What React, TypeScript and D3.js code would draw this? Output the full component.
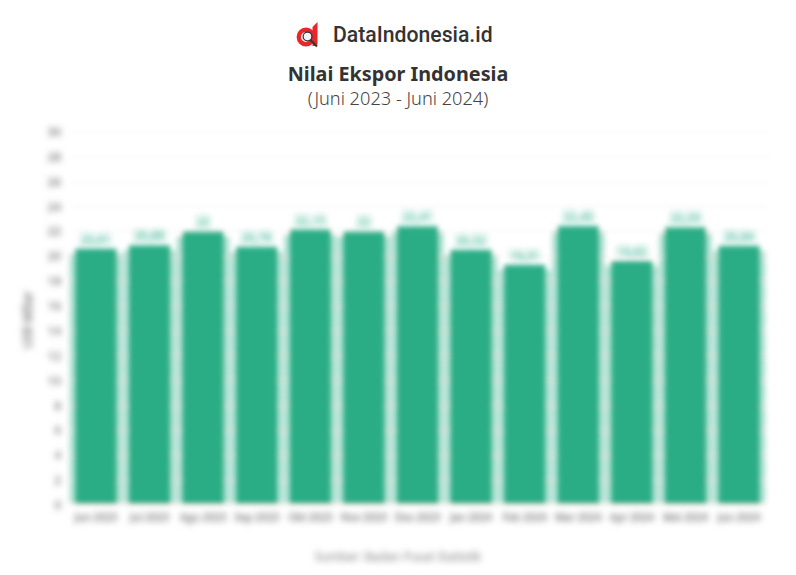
import * as d3 from 'd3';

const months = ['Jun 2023', 'Jul 2023', 'Agu 2023', 'Sep 2023', 'Okt 2023', 'Nov 2023', 'Des 2023', 'Jan 2024', 'Feb 2024', 'Mar 2024', 'Apr 2024', 'Mei 2024', 'Jun 2024'];
const values = [20.61, 20.88, 22, 20.76, 22.15, 22, 22.41, 20.52, 19.31, 22.43, 19.62, 22.33, 20.84];
const valueLabels = ['20,61', '20,88', '22', '20,76', '22,15', '22', '22,41', '20,52', '19,31', '22,43', '19,62', '22,33', '20,84'];
const yTicks = [0, 2, 4, 6, 8, 10, 12, 14, 16, 18, 20, 22, 24, 26, 28, 30];

const width = 796;
const height = 575;
const margin = { top: 132, right: 30, bottom: 70, left: 69 };

const x = d3
  .scaleBand()
  .domain(months)
  .range([margin.left, width - margin.right])
  .paddingInner(0.235)
  .paddingOuter(0.12);

const y = d3
  .scaleLinear()
  .domain([0, 30])
  .range([height - margin.bottom, margin.top]);

const font = '"Noto Sans", sans-serif';
const green = '#2aad85';
const tickGrey = '#a0a0a0';

export default function App() {
  return (
    <svg
      width={width}
      height={height}
      style={{ position: 'absolute', left: 0, top: 0, background: '#fff' }}
    >
      <defs>
        <filter id="blur" x="-5%" y="-5%" width="110%" height="110%">
          <feGaussianBlur stdDeviation="2.8" />
        </filter>
        <filter id="blurText" x="-5%" y="-5%" width="110%" height="110%">
          <feGaussianBlur stdDeviation="3" />
        </filter>
      </defs>

      {/* logo */}
      <g>
        <circle cx={306} cy={37} r={7.2} fill="#fff" stroke="#e8262c" strokeWidth={4.4} />
        <path d="M312.5 27 L317.5 22 V44 Q317.5 46 315 46 H312.5 Z" fill="#e8262c" />
        <circle cx={307.5} cy={36.5} r={4.4} fill="#eef4f7" stroke="#333" strokeWidth={1.3} />
        <line x1={310.5} y1={40} x2={317} y2={46.5} stroke="#333" strokeWidth={2} />
      </g>
      <text x={333} y={42} fontFamily="Roboto, sans-serif" fontWeight={500} fontSize={21.2} fill="#333">
        DataIndonesia.id
      </text>

      <text x={398} y={81} textAnchor="middle" fontFamily={font} fontWeight={700} fontSize={19.8} fill="#333">
        Nilai Ekspor Indonesia
      </text>
      <text x={398} y={105} textAnchor="middle" fontFamily={font} fontWeight={300} fontSize={18.2} fill="#444">
        (Juni 2023 - Juni 2024)
      </text>

      <g filter="url(#blur)">
        {yTicks.map((t) => (
          <line key={t} x1={70} x2={770} y1={y(t)} y2={y(t)} stroke="#f2f2f2" strokeWidth={1} />
        ))}
        {months.map((m, i) => (
          <g key={m}>
            <rect
              x={(x(m) || 0) - 6}
              y={y(values[i]) + 5}
              width={x.bandwidth() + 12}
              height={y(0) - y(values[i]) - 6}
              fill={green}
              fillOpacity={0.36}
            />
            <rect
              x={x(m)}
              y={y(values[i])}
              width={x.bandwidth()}
              height={y(0) - y(values[i]) - 1}
              fill={green}
            />
          </g>
        ))}
      </g>

      <g filter="url(#blurText)" fontFamily={font}>
        {yTicks.map((t) => (
          <text key={t} x={61} y={y(t) + 4} textAnchor="end" fontSize={11.5} fill={tickGrey} stroke={tickGrey} strokeWidth={0.8}>
            {t}
          </text>
        ))}
        {months.map((m, i) => (
          <g key={m}>
            <text
              x={(x(m) || 0) + x.bandwidth() / 2}
              y={y(values[i]) - 5}
              textAnchor="middle"
              fontSize={12}
              fill={green}
              stroke={green}
              strokeWidth={1}
              opacity={0.6}
            >
              {valueLabels[i]}
            </text>
            <text
              x={(x(m) || 0) + x.bandwidth() / 2}
              y={y(0) + 16}
              textAnchor="middle"
              fontSize={10.5}
              fill={tickGrey}
              stroke={tickGrey}
              strokeWidth={0.8}
            >
              {m}
            </text>
          </g>
        ))}
        <text
          transform="translate(32,320) rotate(-90)"
          textAnchor="middle"
          fontSize={12}
          fill={tickGrey}
          stroke={tickGrey}
          strokeWidth={0.8}
        >
          US$ Miliar
        </text>
        <text x={398} y={561} textAnchor="middle" fontSize={11.8} fill="#b0b0b0" stroke="#b0b0b0" strokeWidth={0.6}>
          Sumber: Badan Pusat Statistik
        </text>
      </g>
    </svg>
  );
}
